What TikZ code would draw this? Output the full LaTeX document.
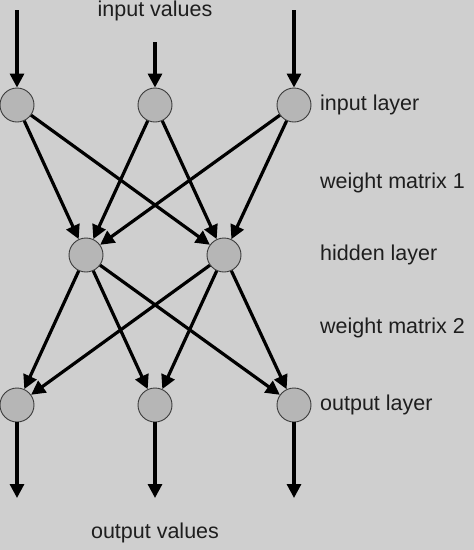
\documentclass[tikz,border=0pt]{standalone}
\usepackage{fontspec}
\setmainfont{Liberation Sans}
\usepackage{tikz}
\usetikzlibrary{arrows.meta, positioning}
\usepackage{xcolor}
\definecolor{paneltgray}{HTML}{CFCFCF}
\definecolor{neurongray}{HTML}{B6B6B6}
\definecolor{rimgray}{HTML}{3A3A3A}
\definecolor{inkgray}{HTML}{1E1E1E}

\begin{document}
\begin{tikzpicture}[
				x=1pt, y=-1pt,
				every node/.style={font=\fontsize{21.5}{25}\selectfont, text=inkgray},
				neuron/.style={circle, draw=rimgray, line width=0.9pt, fill=neurongray, minimum size=34pt, inner sep=0pt},
				tag/.style={anchor=west, inner sep=0pt},
				arrowstyle/.style={-{Triangle[length=14pt, width=14pt]}, line width=3.2pt, black}
			]
			% Background panel
			\fill[paneltgray] (0,0) rectangle (474,550);
			\useasboundingbox (0,0) rectangle (474,550);

			% Input layer
			\node[neuron] (in1) at (17,105) {};
			\node[neuron] (in2) at (155,105) {};
			\node[neuron] (in3) at (294,105) {};

			% Hidden layer
			\node[neuron] (hid1) at (86,255) {};
			\node[neuron] (hid2) at (224,255) {};

			% Output layer
			\node[neuron] (out1) at (17,405) {};
			\node[neuron] (out2) at (155,405) {};
			\node[neuron] (out3) at (294,405) {};

			% Free ends of the input and output arrows
			\coordinate (src1) at (17,10);
			\coordinate (src2) at (155,42);
			\coordinate (src3) at (294,10);
			\coordinate (snk1) at (17,498);
			\coordinate (snk2) at (155,498);
			\coordinate (snk3) at (294,498);

			% Labels
			\node (invals) at (155,11) {input values};
			\node (outvals) at (155,533) {output values};
			\node[tag] (lblin) at (320,105) {input layer};
			\node[tag] (lblw1) at (320,183) {weight matrix 1};
			\node[tag] (lblhid) at (320,255) {hidden layer};
			\node[tag] (lblw2) at (320,328) {weight matrix 2};
			\node[tag] (lblout) at (320,405) {output layer};

			% Input values into the input layer
			\draw[arrowstyle] (src1) -- (in1);
			\draw[arrowstyle] (src2) -- (in2);
			\draw[arrowstyle] (src3) -- (in3);

			% Weight matrix 1: input -> hidden
			\draw[arrowstyle] (in1) -- (hid1);
			\draw[arrowstyle] (in1) -- (hid2);
			\draw[arrowstyle] (in2) -- (hid1);
			\draw[arrowstyle] (in2) -- (hid2);
			\draw[arrowstyle] (in3) -- (hid1);
			\draw[arrowstyle] (in3) -- (hid2);

			% Weight matrix 2: hidden -> output
			\draw[arrowstyle] (hid1) -- (out1);
			\draw[arrowstyle] (hid1) -- (out2);
			\draw[arrowstyle] (hid1) -- (out3);
			\draw[arrowstyle] (hid2) -- (out1);
			\draw[arrowstyle] (hid2) -- (out2);
			\draw[arrowstyle] (hid2) -- (out3);

			% Output layer to output values
			\draw[arrowstyle] (out1) -- (snk1);
			\draw[arrowstyle] (out2) -- (snk2);
			\draw[arrowstyle] (out3) -- (snk3);

		\end{tikzpicture}
\end{document}
